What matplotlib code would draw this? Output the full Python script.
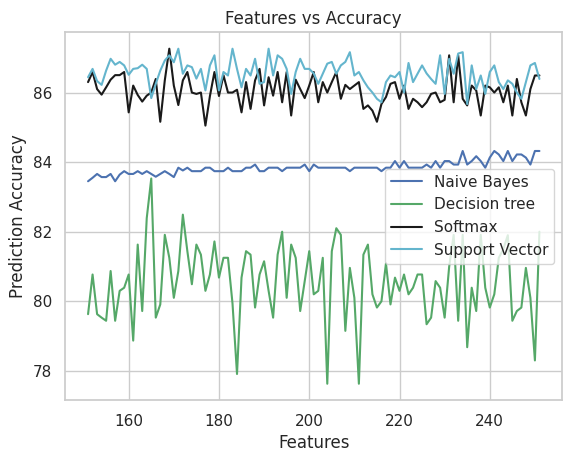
import matplotlib
matplotlib.use("Agg")
import matplotlib.pyplot as plt
import numpy as np
import seaborn as sns

sns.set_theme(style="whitegrid", color_codes=True)

features = np.arange(151, 252)

naive_bayes = [
    83.45, 83.55, 83.66, 83.57, 83.57, 83.66, 83.45, 83.64, 83.74, 83.66,
    83.66, 83.74, 83.66, 83.74, 83.66, 83.58, 83.66, 83.74, 83.66, 83.57,
    83.84, 83.76, 83.84, 83.74, 83.74, 83.74, 83.84, 83.84, 83.74, 83.74,
    83.74, 83.84, 83.74, 83.74, 83.74, 83.84, 83.84, 83.93, 83.74, 83.74,
    83.84, 83.84, 83.84, 83.74, 83.84, 83.84, 83.84, 83.84, 83.93, 83.74,
    83.93, 83.84, 83.84, 83.84, 83.84, 83.84, 83.84, 83.84, 83.74, 83.84,
    83.84, 83.84, 83.84, 83.84, 83.84, 83.74, 83.84, 83.84, 84.03, 83.84,
    84.03, 83.84, 83.84, 83.84, 83.84, 83.93, 83.84, 84.03, 83.84, 84.03,
    84.03, 83.93, 83.93, 84.32, 83.93, 84.03, 84.17, 84.03, 83.84, 84.13,
    84.32, 84.22, 84.03, 84.32, 84.03, 84.22, 84.22, 84.13, 83.93, 84.32,
    84.32,
]

decision_tree = [
    79.63, 80.77, 79.63, 79.53, 79.44, 80.87, 79.44, 80.30, 80.39, 80.77,
    78.87, 81.63, 79.72, 82.39, 83.53, 79.53, 79.91, 81.91, 81.25, 80.10,
    80.87, 82.49, 81.44, 80.49, 81.63, 81.34, 80.30, 80.77, 81.72, 80.68,
    81.25, 81.25, 79.94, 77.91, 80.68, 81.44, 81.34, 79.82, 80.77, 81.15,
    80.30, 79.53, 81.34, 82.00, 80.10, 81.63, 81.25, 79.72, 80.58, 81.44,
    80.20, 80.30, 81.25, 77.63, 81.44, 82.10, 81.91, 79.15, 80.96, 80.10,
    77.63, 81.34, 81.63, 80.20, 79.82, 80.00, 81.09, 79.91, 80.68, 80.30,
    80.77, 80.20, 80.39, 80.77, 80.77, 79.34, 79.53, 80.58, 80.39, 79.53,
    80.99, 81.91, 79.44, 81.91, 78.68, 80.39, 79.72, 81.91, 80.39, 79.82,
    80.20, 81.25, 81.50, 81.90, 79.44, 79.72, 79.82, 80.96, 80.10, 78.30,
    82.00,
]

softmax = [
    86.30, 86.59, 86.10, 85.94, 86.15, 86.37, 86.50, 86.50, 86.59, 85.43,
    86.20, 85.93, 85.74, 85.91, 86.00, 86.39, 85.16, 86.35, 87.26, 86.20,
    85.64, 86.35, 86.59, 86.00, 85.96, 86.00, 85.05, 85.90, 86.59, 85.90,
    86.50, 86.00, 86.00, 86.08, 85.43, 86.30, 85.53, 86.35, 86.68, 85.63,
    86.44, 85.91, 86.59, 85.72, 86.59, 85.34, 86.37, 86.10, 85.84, 86.20,
    86.59, 85.72, 86.30, 86.00, 86.30, 86.59, 85.82, 86.22, 86.10, 86.20,
    86.30, 85.53, 85.63, 85.48, 85.16, 85.67, 85.87, 86.25, 86.30, 85.82,
    86.20, 85.53, 85.82, 85.72, 85.58, 85.72, 85.96, 86.00, 85.72, 85.79,
    87.07, 85.72, 87.07, 85.82, 85.63, 86.20, 86.06, 85.34, 86.20, 86.15,
    86.00, 86.15, 85.72, 86.20, 85.34, 86.39, 85.72, 85.34, 86.10, 86.49,
    86.49,
]

support_vector = [
    86.44, 86.68, 86.33, 86.22, 86.63, 86.97, 86.80, 86.88, 86.78, 86.51,
    86.68, 86.70, 86.80, 86.68, 85.84, 86.25, 86.63, 86.92, 87.07, 86.87,
    87.26, 86.54, 86.78, 86.73, 86.40, 86.68, 86.06, 86.78, 87.07, 86.06,
    86.59, 86.49, 87.26, 86.68, 86.15, 86.68, 86.49, 86.97, 86.25, 86.30,
    87.26, 86.49, 87.07, 86.97, 86.68, 85.96, 86.59, 86.97, 86.68, 86.68,
    86.55, 86.25, 86.54, 86.83, 86.88, 86.54, 86.78, 86.88, 87.16, 86.49,
    86.59, 86.35, 86.15, 86.00, 85.82, 85.72, 86.30, 86.49, 86.44, 86.59,
    86.00, 86.85, 86.30, 86.54, 86.78, 86.55, 86.39, 86.25, 87.07, 85.96,
    86.97, 86.54, 87.12, 87.16, 85.67, 86.78, 86.10, 86.49, 85.96, 86.59,
    86.78, 86.30, 86.10, 86.35, 86.25, 86.00, 85.82, 86.30, 86.78, 86.85,
    86.39,
]

fig, ax = plt.subplots(figsize=(5.72, 4.63), dpi=100)
fig.subplots_adjust(left=0.1145, right=0.9825, top=0.931, bottom=0.135)

ax.plot(features, naive_bayes, "b", label="Naive Bayes")
ax.plot(features, decision_tree, "g", label="Decision tree")
ax.plot(features, softmax, "k", label="Softmax")
ax.plot(features, support_vector, "c", label="Support Vector")

ax.set_title("Features vs Accuracy")
ax.set_xlabel("Features")
ax.set_ylabel("Prediction Accuracy")
ax.legend(loc="center right")

fig.savefig("out.png", dpi=100)
